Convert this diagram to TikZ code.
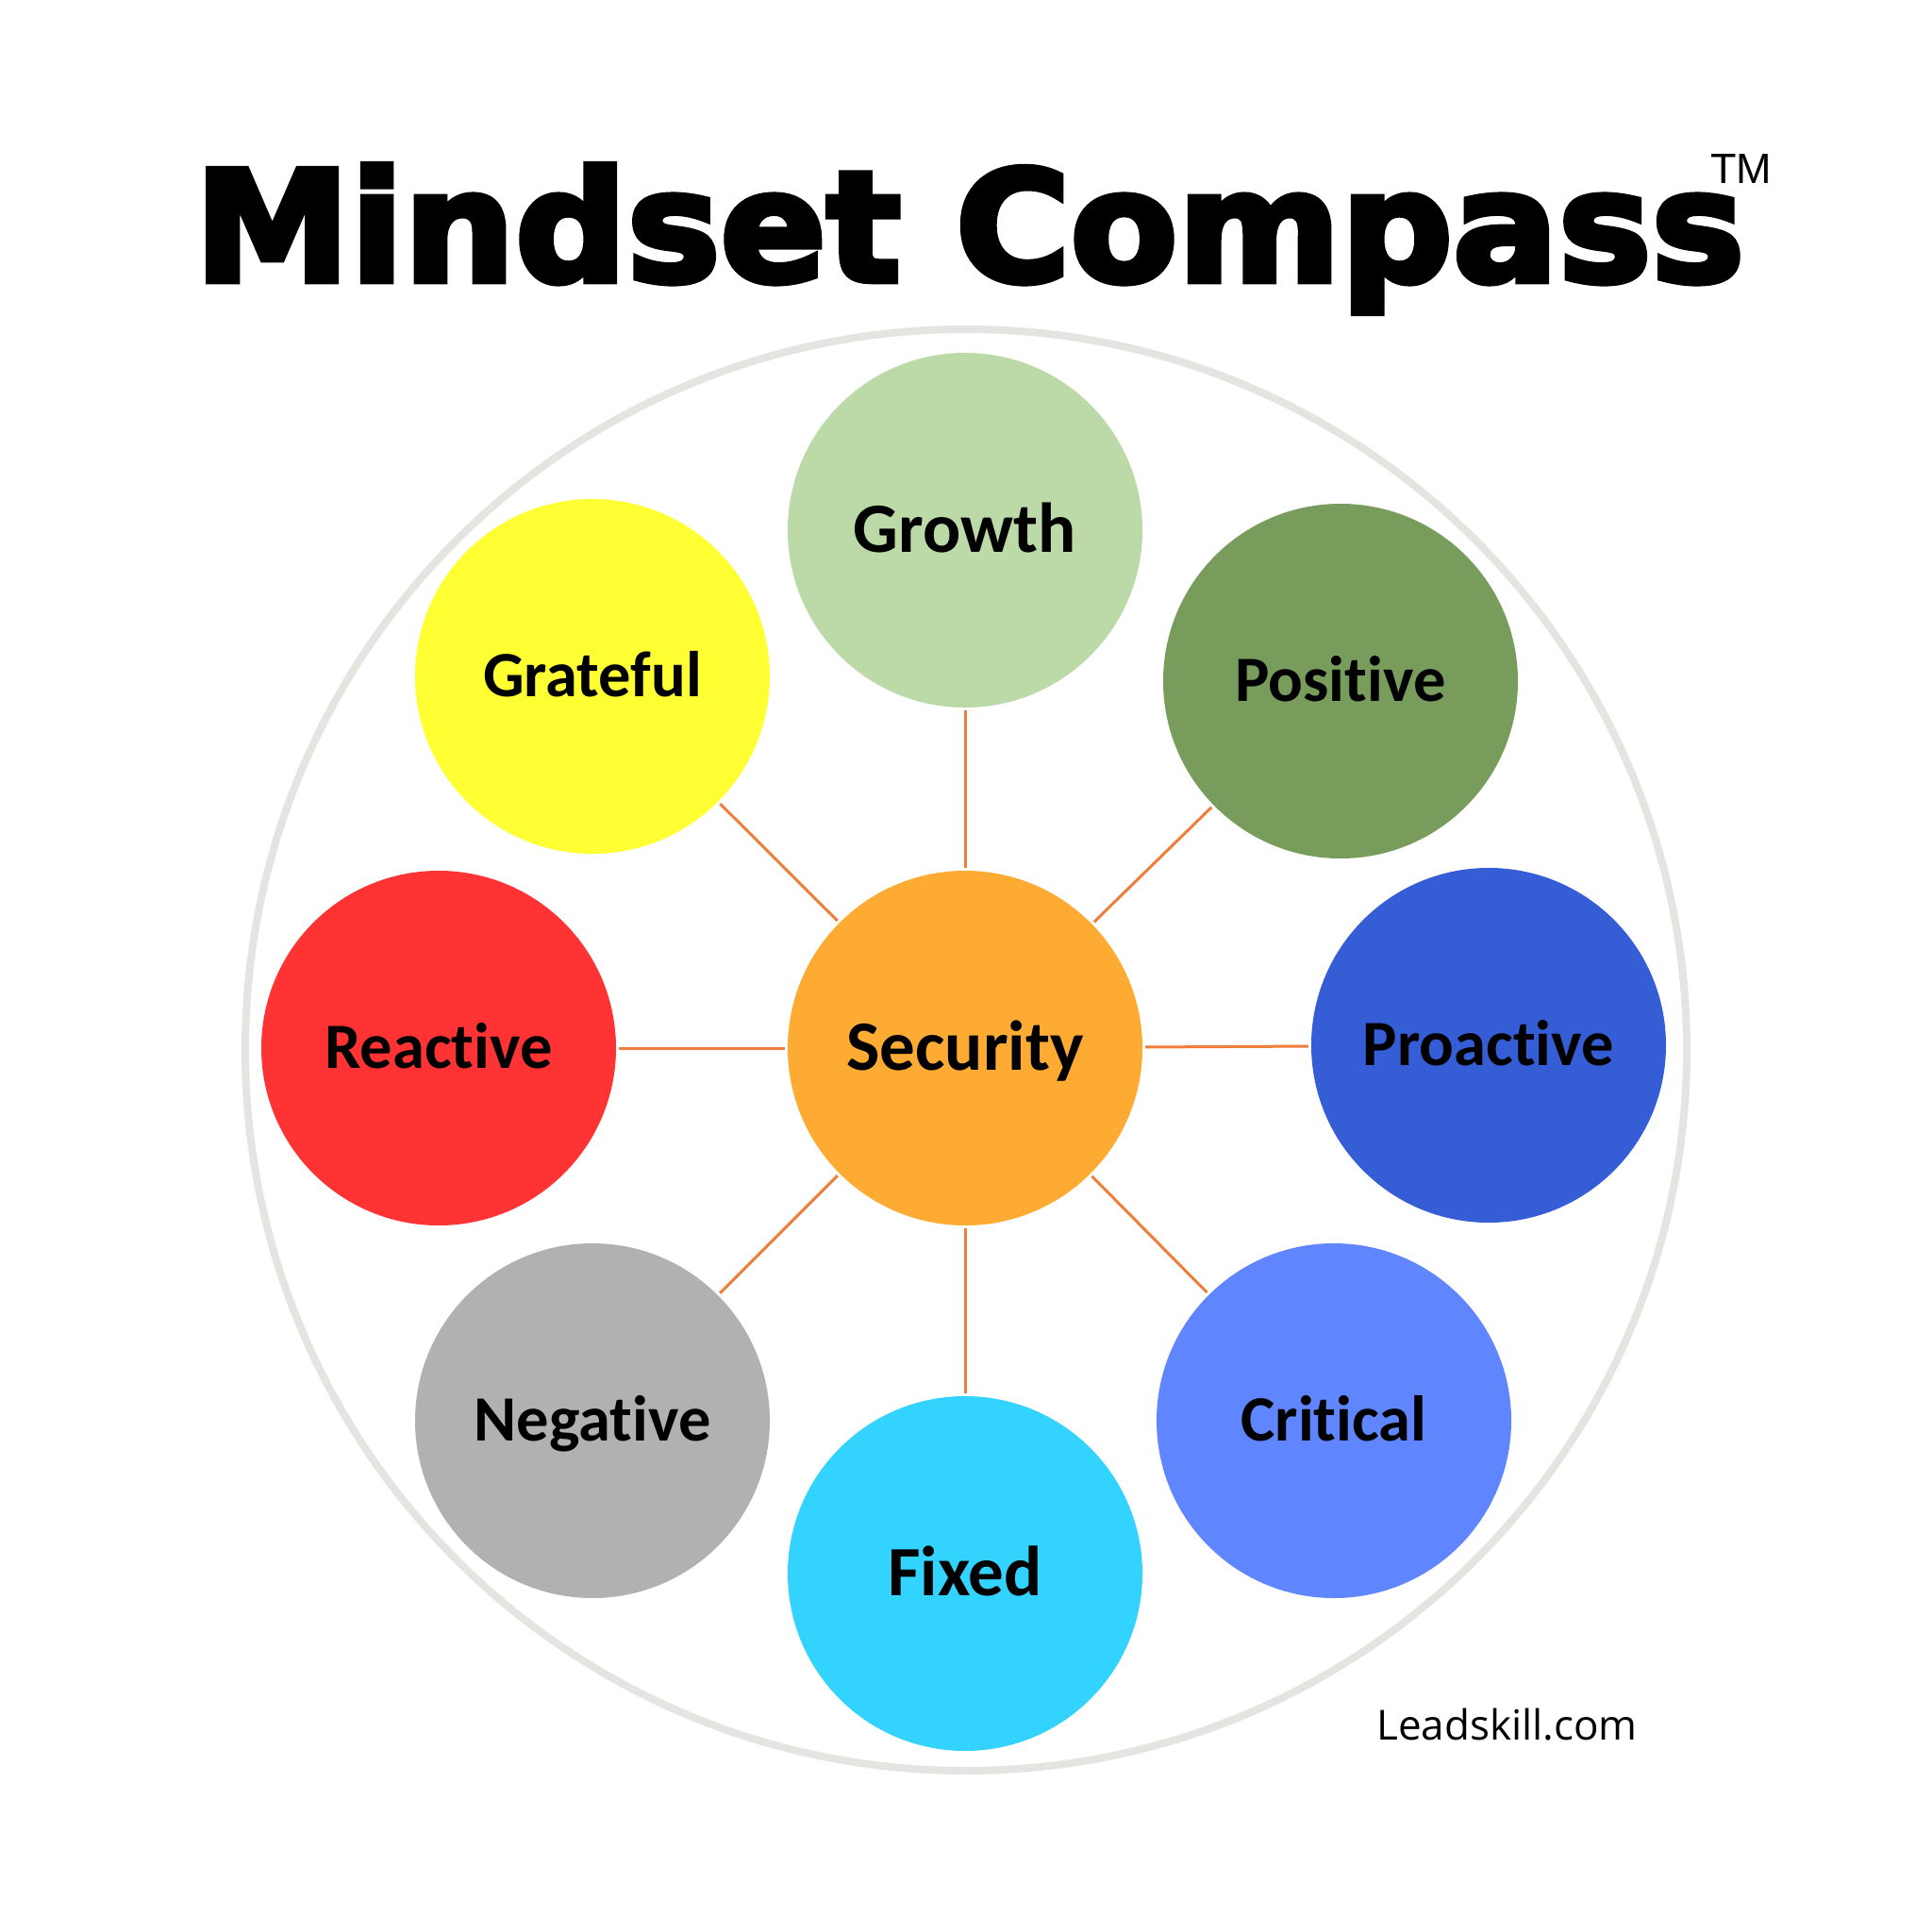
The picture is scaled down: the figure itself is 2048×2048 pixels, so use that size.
\documentclass[tikz,border=0pt]{standalone}
\usepackage{fontspec}
\setmainfont{Carlito}[Ligatures=NoCommon]
\newfontfamily\titlefont{DejaVu Sans Bold}[FakeBold=4]
\newfontfamily\tmfont{Liberation Sans}
\newfontfamily\sitefont{Open Sans}
\definecolor{cgrowth}{HTML}{BBDAA8}
\definecolor{cgrateful}{HTML}{FFFF33}
\definecolor{cpositive}{HTML}{789C5C}
\definecolor{creactive}{HTML}{FF3333}
\definecolor{csecurity}{HTML}{FEAB33}
\definecolor{cproactive}{HTML}{355DD6}
\definecolor{cnegative}{HTML}{B1B1B1}
\definecolor{ccritical}{HTML}{5F86FF}
\definecolor{cfixed}{HTML}{33D3FF}
\definecolor{clink}{HTML}{EE7E3A}
\definecolor{cring}{HTML}{E4E4E0}
\tikzset{
  bubble/.style={circle, minimum size=376pt, inner sep=0pt, draw=none,
    text=black, text depth=0pt},
  lbig/.style={font=\fontsize{75}{80}\selectfont\bfseries, text height=47pt},
  lsmall/.style={font=\fontsize{68.5}{74}\selectfont\bfseries, text height=43pt},
  link/.style={draw=clink, line width=3pt, shorten <=3pt, shorten >=3pt},
}
\begin{document}
\begin{tikzpicture}[x=1pt,y=-1pt]
\useasboundingbox[fill=white] (0,0) rectangle (2048,2048);
\node[circle, draw=cring, line width=8pt, minimum size=1528pt, inner sep=0pt] (ring) at (1024,1113) {};
\node[anchor=base west, inner sep=0pt] (title) at (206,298)
  {\resizebox{1643pt}{\height}{\titlefont\fontsize{163}{170}\selectfont Mindset Compass}};
\node[anchor=base west, inner sep=0pt] (tm) at (1813,194) {\tmfont\fontsize{45}{50}\selectfont TM};
\node[bubble, lbig, fill=cgrowth] (growth) at (1023,562) {Growth};
\node[bubble, lsmall, fill=cgrateful] (grateful) at (628,717) {Grateful};
\node[bubble, lsmall, fill=cpositive] (positive) at (1421,722) {Positive};
\node[bubble, lsmall, fill=creactive] (reactive) at (465,1111) {Reactive};
\node[bubble, lbig, fill=csecurity] (security) at (1023,1111) {Security};
\node[bubble, lsmall, fill=cproactive] (proactive) at (1578,1108) {Proactive};
\node[bubble, lsmall, fill=cnegative] (negative) at (628,1506) {Negative};
\node[bubble, lsmall, fill=ccritical] (critical) at (1414,1506) {Critical};
\node[bubble, lbig, fill=cfixed] (fixed) at (1023,1668) {Fixed};
\foreach \n in {growth,grateful,positive,reactive,proactive,negative,critical,fixed}
  \draw[link] (security) -- (\n);
\node[anchor=base west, inner sep=0pt] (site) at (1459,1844) {\sitefont\fontsize{44}{50}\selectfont Leadskill.com};
\end{tikzpicture}
\end{document}
